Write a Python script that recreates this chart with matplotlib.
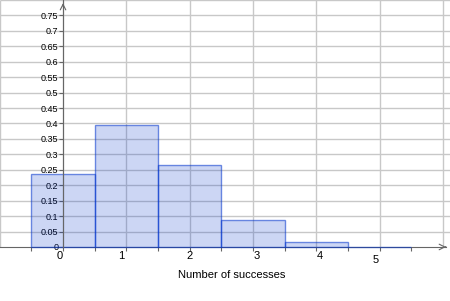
import numpy as np
import matplotlib
matplotlib.use("Agg")
from matplotlib import pyplot as plt
from matplotlib.ticker import FormatStrFormatter

plt.rcParams['font.family'] = ['Liberation Sans', 'DejaVu Sans']

# binomial probabilities
successes = [0, 1, 2, 3, 4, 5]
probs = [0.237, 0.396, 0.264, 0.088, 0.015, 0.001]
# where the x labels sit (slightly off the integers in the original)
label_pos = [-0.06, 0.92, 2.0, 3.05, 4.06, 4.94]
label_y = [-0.029, -0.029, -0.029, -0.029, -0.029, -0.042]

fig = plt.figure(figsize=(4.5, 3.01), dpi=100)
ax = fig.add_axes([0, 0, 1, 1])
ax.set_xlim(-0.995, 6.11)
ax.set_ylim(-0.175, 0.8)

# grid only over the positive quadrant region
grid_col = '#c8c8c8'
ax.hlines(np.arange(0.05, 0.801, 0.05), -0.995, 6.11, color=grid_col, lw=1, zorder=0)
ax.vlines(range(-1, 7), 0, 0.8, color=grid_col, lw=1, zorder=0)

ax.bar(successes, probs, width=1.0, facecolor=(0.0, 0.2, 0.8, 0.2),
       edgecolor=(0.0, 0.2, 0.8, 0.55), linewidth=1, zorder=2)

for s in ['top', 'right']:
    ax.spines[s].set_visible(False)
ax.spines['left'].set_position(('data', 0))
ax.spines['bottom'].set_position(('data', 0))
ax.spines['left'].set_bounds(0, 0.8)
ax.spines['bottom'].set_bounds(-0.995, 6.05)
ax.spines['left'].set_color('#666666')
ax.spines['bottom'].set_color('#666666')
ax.spines['left'].set_zorder(3)
ax.spines['bottom'].set_zorder(1)

ax.set_yticks(np.arange(0, 0.751, 0.05))
ax.yaxis.set_major_formatter(FormatStrFormatter('%g'))
ax.set_xticks(np.arange(-0.5, 5.6, 0.5))
ax.set_xticklabels([])
ax.tick_params(axis='y', length=3, pad=0.5, labelsize=6.5, color='#666666')
ax.tick_params(axis='x', length=3, color='#666666')

# axis arrows
ax.annotate('', xy=(6.09, 0), xytext=(6.0, 0),
            arrowprops=dict(arrowstyle='->', color='#666666', lw=0.8))
ax.annotate('', xy=(0, 0.799), xytext=(0, 0.77),
            arrowprops=dict(arrowstyle='->', color='#666666', lw=0.8))

for k, xp, yp in zip(successes, label_pos, label_y):
    ax.text(xp, yp, str(k), ha='center', va='center', fontsize=8)

ax.text(2.67, -0.09, 'Number of successes', ha='center', va='center', fontsize=8)

plt.savefig('out.png', dpi=100)
